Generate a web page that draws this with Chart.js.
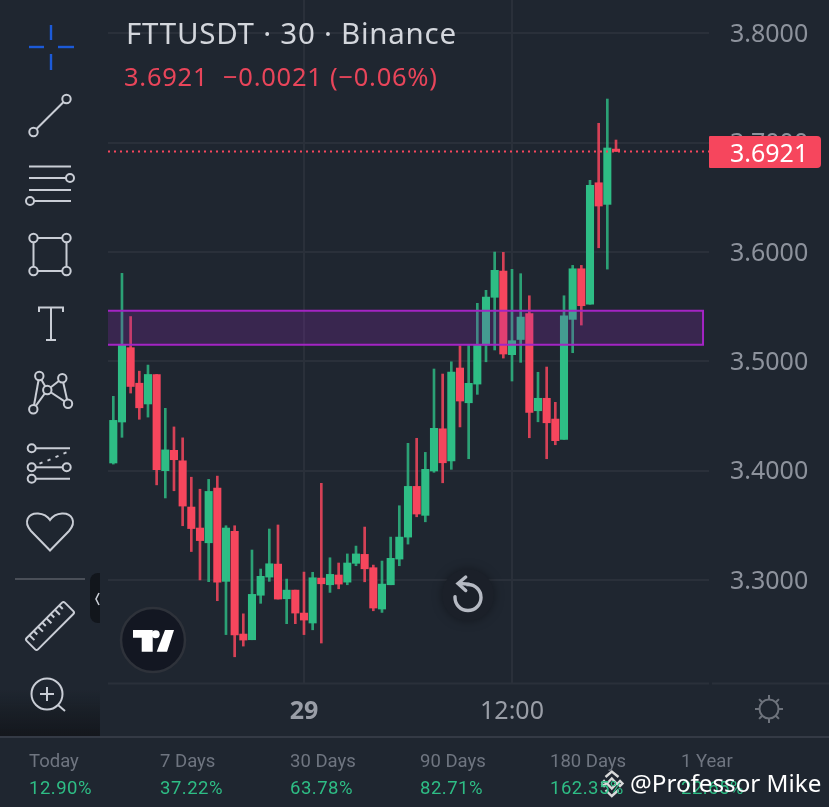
<!DOCTYPE html>
<html><head><meta charset="utf-8">
<style>
html,body{margin:0;padding:0;background:#1f2630;width:829px;height:807px;overflow:hidden}
#wrap{position:relative;width:829px;height:807px}
canvas{position:absolute;left:0;top:0}
.t{position:absolute;white-space:pre;transform:translateY(-50%);font-family:"Noto Sans",sans-serif;line-height:1.2}
</style>
<script src="https://cdn.jsdelivr.net/npm/chart.js@4"></script>
</head><body><div id="wrap"><canvas id="c" width="829" height="807"></canvas></div>
<script>
const timeLabels=["13:00","13:30","14:00","14:30","15:00","15:30","16:00","16:30","17:00","17:30","18:00","18:30","19:00","19:30","20:00","20:30","21:00","21:30","22:00","22:30","23:00","23:30","29","00:30","01:00","01:30","02:00","02:30","03:00","03:30","04:00","04:30","05:00","05:30","06:00","06:30","07:00","07:30","08:00","08:30","09:00","09:30","10:00","10:30","11:00","11:30","12:00","12:30","13:00","13:30","14:00","14:30","15:00","15:30","16:00","16:30","17:00","17:30","18:00"];
const opens=[3.407,3.4445,3.5125,3.480,3.461,3.488,3.400,3.4186,3.409,3.3667,3.3475,3.334,3.384,3.2987,3.3445,3.2505,3.2453,3.286,3.3026,3.3145,3.2828,3.2907,3.2697,3.2606,3.3017,3.2956,3.3045,3.298,3.3152,3.3234,3.3112,3.2734,3.2956,3.3191,3.3392,3.3856,3.3591,3.3997,3.4383,3.4088,3.4939,3.4621,3.4792,3.5149,3.5586,3.5826,3.5061,3.52,3.5436,3.4548,3.4662,3.4472,3.4286,3.5384,3.5847,3.5522,3.6634,3.6436,3.6942];
const highs=[3.468,3.5805,3.541,3.491,3.4966,3.488,3.457,3.440,3.430,3.394,3.383,3.392,3.395,3.3496,3.3496,3.269,3.3274,3.310,3.3466,3.3503,3.3008,3.2907,3.3072,3.307,3.3884,3.3203,3.3155,3.3238,3.331,3.3484,3.3136,3.3173,3.3392,3.3679,3.425,3.4296,3.4167,3.493,3.4884,3.4996,3.5143,3.5149,3.5531,3.565,3.600,3.5997,3.5842,3.5802,3.56,3.49,3.4948,3.4625,3.56,3.5878,3.5878,3.6656,3.7178,3.74,3.7025];
const lows=[3.406,3.4305,3.471,3.447,3.449,3.387,3.375,3.3816,3.3496,3.326,3.300,3.2984,3.281,3.250,3.2297,3.2395,3.2453,3.2786,3.2987,3.2825,3.260,3.260,3.250,3.2544,3.2423,3.2886,3.2919,3.2956,3.313,3.2983,3.2718,3.2703,3.2956,3.313,3.3328,3.3578,3.3532,3.3985,3.3889,3.4012,3.44,3.4109,3.4698,3.4996,3.5104,3.503,3.482,3.4991,3.4301,3.4447,3.4109,3.4237,3.4286,3.5079,3.5332,3.5522,3.6039,3.5844,3.6921];
const closes=[3.446,3.5155,3.477,3.4575,3.488,3.401,3.419,3.410,3.3676,3.347,3.336,3.381,3.298,3.3475,3.2496,3.245,3.2868,3.3033,3.3148,3.2825,3.2907,3.2697,3.2633,3.302,3.2965,3.3051,3.2962,3.3155,3.3238,3.3102,3.2743,3.2962,3.3198,3.3392,3.3856,3.3603,3.4012,3.4387,3.4072,3.4902,3.4637,3.4799,3.5149,3.5588,3.5833,3.5067,3.5189,3.5405,3.4533,3.4662,3.4438,3.4274,3.5417,3.5847,3.5509,3.6611,3.6421,3.6952,3.6921];
const yTicks=[3.3,3.4,3.5,3.6,3.7,3.8];
const xTickLabels=["29","12:00"];
const zoneTop=3.5463, zoneBottom=3.5152, zoneEndIndex=68.04;
const lastPrice=3.6921;
const titleText="FTTUSDT · 30 · Binance";
const quoteText="3.6921  −0.0021 (−0.06%)";
const periodNames=["Today","7 Days","30 Days","90 Days","180 Days","1 Year"];
const periodValues=["12.90%","37.22%","63.78%","82.71%","162.35%","22.65%"];
const watermark="@Professor Mike";

const GREEN='#2ebd85',RED='#f6465d',BG='#1f2630',ICON='#c9cdd5',GRID='#2a303a';
const up=i=>closes[i]>=opens[i];
const xs=timeLabels.map((_,i)=>i);
const wicks=xs.map(i=>({x:i,y:[lows[i],highs[i]]}));
const bodies=xs.map(i=>({x:i,y:[Math.min(opens[i],closes[i]),Math.max(opens[i],closes[i])]}));
const xTickIdx=xTickLabels.map(l=>timeLabels.indexOf(l));

function circ(c,x,y,r){c.beginPath();c.arc(x,y,r,0,Math.PI*2);c.stroke();}
function seg(c,...p){c.beginPath();c.moveTo(p[0],p[1]);for(let i=2;i<p.length;i+=2)c.lineTo(p[i],p[i+1]);c.stroke();}
function poly(c,...p){c.beginPath();c.moveTo(p[0],p[1]);for(let i=2;i<p.length;i+=2)c.lineTo(p[i],p[i+1]);c.closePath();c.fill();}

function drawIcons(c){
  c.save();c.lineCap='butt';c.lineWidth=2;
  c.strokeStyle='#1c5ad8';c.lineWidth=2.4;
  seg(c,51,25,51,40);seg(c,51,54,51,70);seg(c,29,47,44,47);seg(c,58,47,74,47);
  c.strokeStyle=ICON;c.lineWidth=2;
  seg(c,36.7,128.8,63.3,102.2);circ(c,33.5,132,4.2);circ(c,66.5,99,4.2);
  seg(c,29,166.5,71,166.5);seg(c,29,178,66,178);circ(c,70,178,4);seg(c,29,190,71,190);seg(c,34,201,71,201);circ(c,30,201,4);
  seg(c,38,238,62,238);seg(c,38,271,62,271);seg(c,33.5,242.5,33.5,266.5);seg(c,66.5,242.5,66.5,266.5);
  [[33.5,238],[66.5,238],[33.5,271],[66.5,271]].forEach(p=>circ(c,p[0],p[1],4.2));
  seg(c,39,312,39,307.5,63,307.5,63,312);seg(c,51,307.5,51,340);seg(c,46,340,56,340);
  const n=[[39.3,376],[62.3,378.3],[47.3,390],[68,403.7],[33.3,409.3]];
  [[0,4],[0,2],[2,4],[2,1],[2,3],[1,3]].forEach(e=>seg(c,n[e[0]][0],n[e[0]][1],n[e[1]][0],n[e[1]][1]));
  n.forEach(p=>{c.fillStyle=BG;c.beginPath();c.arc(p[0],p[1],4.2,0,7);c.fill();circ(c,p[0],p[1],4.2);});
  seg(c,36,448.3,70,448.3);circ(c,31.7,448.3,4);
  seg(c,36,467.3,62.5,467.3);circ(c,31.7,467.3,4);circ(c,66.7,467.3,4);
  seg(c,36,478.7,70,478.7);circ(c,31.7,478.7,4);
  [[41,463],[49,460],[57,456.5],[65,453]].forEach(p=>seg(c,p[0]-1.5,p[1]+.6,p[0]+1.5,p[1]-.6));
  c.beginPath();c.moveTo(50,550.5);c.lineTo(31,531);c.bezierCurveTo(23,522,28,513,38,513.5);c.bezierCurveTo(44,514,48,517,50,520);
  c.bezierCurveTo(52,517,56,514,62,513.5);c.bezierCurveTo(72,513,77,522,69,531);c.closePath();c.stroke();
  c.strokeStyle='#4a4f58';seg(c,15,579,85,579);
  c.fillStyle='#12161c';c.beginPath();c.roundRect(90,573,18,50,8);c.fill();
  c.fillStyle=BG;c.fillRect(100,570,8,56);
  c.strokeStyle=ICON;c.lineWidth=1.6;seg(c,99,593,96,599,99,605);
  c.lineWidth=2;
  c.save();c.translate(50,626);c.rotate(-Math.PI/4);c.beginPath();c.roundRect(-27,-8,54,16,2);c.stroke();
  [-21,-15,-9,-3,3,9,15,21].forEach((x,i)=>seg(c,x,-8,x,i%2?-3:-1));c.restore();
  const g=c.createLinearGradient(0,690,0,736);g.addColorStop(0,'rgba(20,23,29,0)');g.addColorStop(1,'rgba(20,23,29,1)');
  c.fillStyle=g;c.fillRect(0,685,100,51);
  circ(c,47,694,15.5);seg(c,58,705,65,711);seg(c,40,694,54,694);seg(c,47,687,47,701);
  c.strokeStyle='#343a45';seg(c,0,737,829,737);
  c.strokeStyle=GRID;seg(c,108,683.5,709,683.5);seg(c,712,683.5,829,683.5);
  c.strokeStyle='#6e737c';c.lineWidth=2;circ(c,769,709,9.5);
  for(let k=0;k<8;k++){const a=k*Math.PI/4;seg(c,769+Math.cos(a)*10,709+Math.sin(a)*10,769+Math.cos(a)*14,709+Math.sin(a)*14);}
  c.fillStyle='#131722';c.strokeStyle='#2e323a';c.lineWidth=2.5;c.beginPath();c.arc(153,640,32,0,7);c.fill();c.stroke();
  c.fillStyle='#fff';
  poly(c,133,630,152.7,630,152.7,651.7,141.7,651.7,141.7,637.7,133,637.7);
  c.beginPath();c.arc(155.7,634.3,4,0,7);c.fill();
  poly(c,165,630,174,630,167,651.7,156.7,651.7);
  c.save();c.shadowColor='rgba(0,0,0,.35)';c.shadowBlur=10;c.fillStyle='#1b2029';c.beginPath();c.arc(468,595,26,0,7);c.fill();c.restore();
  c.strokeStyle='#b6bac3';c.lineWidth=3.4;c.lineCap='round';
  c.beginPath();c.moveTo(459,583.5);c.lineTo(468,584);c.arc(468,597.5,13,-Math.PI/2,Math.PI*1.02);c.stroke();
  seg(c,465.7,577,458,583.5,465.7,590.5);
  c.lineCap='butt';
  c.fillStyle=RED;c.beginPath();c.roundRect(709,136,112,32,[1,4,4,1]);c.fill();
  c.strokeStyle='rgba(232,232,232,.92)';c.lineWidth=2.4;
  seg(c,605.5,777,611.8,771.5,618.5,777);seg(c,605.5,790,611.8,796,618.5,790);
  seg(c,607,783.5,611.8,778.5,616.5,783.5,611.8,788.5,607,783.5);
  seg(c,601.5,783.5,604,781,606,783.5,604,786,601.5,783.5);
  seg(c,617.5,783.5,620,781,622.5,783.5,620,786,617.5,783.5);
  c.restore();
}

const overlays={id:'overlays',
  afterDatasetsDraw(ch){
    const c=ch.ctx,x=ch.scales.x,y=ch.scales.y,a=ch.chartArea;
    c.save();
    const yt=y.getPixelForValue(zoneTop),yb=y.getPixelForValue(zoneBottom),xr=x.getPixelForValue(zoneEndIndex);
    c.fillStyle='rgba(150,40,190,.22)';c.fillRect(a.left,yt,xr-a.left,yb-yt);
    c.strokeStyle='#a424c4';c.lineWidth=2;c.beginPath();c.moveTo(a.left,yt);c.lineTo(xr,yt);c.lineTo(xr,yb);c.lineTo(a.left,yb);c.stroke();
    const yp=y.getPixelForValue(lastPrice);
    c.strokeStyle=RED;c.lineWidth=2;c.setLineDash([2,4]);c.beginPath();c.moveTo(a.left,yp);c.lineTo(a.right,yp);c.stroke();
    c.restore();
  },
  afterDraw(ch){drawIcons(ch.ctx);}
};

new Chart(document.getElementById('c'),{
  type:'bar',
  data:{datasets:[
    {label:'Wick',data:wicks,grouped:false,barThickness:2,borderWidth:0,borderSkipped:false,
     backgroundColor:xs.map(i=>up(i)?'rgba(46,189,133,.82)':'rgba(246,70,93,.85)')},
    {label:'Body',data:bodies,grouped:false,barThickness:7.4,borderWidth:0,borderSkipped:false,
     backgroundColor:xs.map(i=>up(i)?GREEN:RED)}
  ]},
  plugins:[overlays],
  options:{
    responsive:false,animation:false,devicePixelRatio:1,
    layout:{autoPadding:false,padding:{left:108,top:0,right:0,bottom:0}},
    plugins:{legend:{display:false},tooltip:{enabled:false},title:{display:false}},
    scales:{
      x:{type:'linear',offset:false,min:-0.612,max:68.73,
        border:{display:false},
        grid:{color:GRID,lineWidth:2,drawTicks:false,offset:false},
        afterBuildTicks:s=>{s.ticks=xTickIdx.map(v=>({value:v}));},
        afterFit:s=>{s.height=123;s.paddingLeft=0;s.paddingRight=0;s.paddingTop=0;s.paddingBottom=0;},
        ticks:{autoSkip:false,maxRotation:0,padding:13,color:'#9a9ea7',
          callback:v=>timeLabels[v],
          font:ctx=>({family:'"Noto Sans"',size:25,weight:ctx.index===0?'bold':'normal'})}
      },
      y:{position:'right',min:3.2048,max:3.8306,
        border:{display:false},
        grid:{color:GRID,lineWidth:2,drawTicks:false},
        afterBuildTicks:s=>{s.ticks=yTicks.map(v=>({value:v}));},
        afterFit:s=>{s.width=120;s.paddingTop=0;s.paddingBottom=0;s.paddingLeft=0;s.paddingRight=0;},
        ticks:{padding:21,labelOffset:1.5,color:'#8d929c',font:{family:'"Noto Sans"',size:25},callback:v=>v.toFixed(4)}
      }
    }
  }
});

const wrap=document.getElementById('wrap');
function text(t,x,y,size,color,extra){
  const d=document.createElement('div');d.className='t';d.textContent=t;
  d.style.left=x+'px';d.style.top=y+'px';d.style.fontSize=size+'px';d.style.color=color;
  Object.assign(d.style,extra||{});wrap.appendChild(d);
}
text(titleText,126,32.5,29.5,'#d3d6dc',{letterSpacing:'.75px'});
text(quoteText,124,76,25.5,'#e8455a',{letterSpacing:'.75px'});
text(lastPrice.toFixed(4),730,152,25,'#ffffff');
const footX=[29,160,290,420,550,681];
periodNames.forEach((n,i)=>text(n,footX[i],761,18.5,'#6f7580',{fontFamily:'Roboto'}));
periodValues.forEach((n,i)=>text(n,footX[i],788,18.5,'#2ebd85',{fontFamily:'Roboto',letterSpacing:'.5px'}));
text(watermark,630,783,24.2,'#ffffff');
</script></body></html>
